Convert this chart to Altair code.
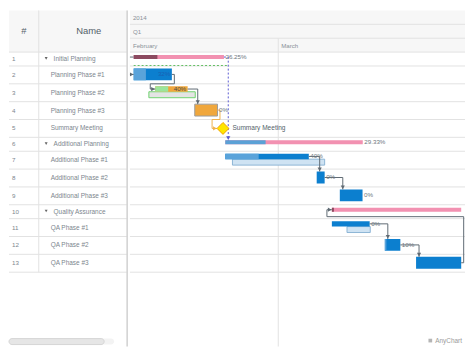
import altair as alt
import pandas as pd

# ---------------- data ----------------
row_no = list(range(1, 14))
names = ["Initial Planning", "Planning Phase #1", "Planning Phase #2", "Planning Phase #3",
         "Summary Meeting", "Additional Planning", "Additional Phase #1", "Additional Phase #2",
         "Additional Phase #3", "Quality Assurance", "QA Phase #1", "QA Phase #2", "QA Phase #3"]
kinds = ["group", "task", "task", "task", "milestone", "group", "task", "task", "task",
         "group", "task", "task", "task"]
starts = ["2014-02-01T17:00", "2014-02-01T17:00", "2014-02-05T18:30", "2014-02-13T05:45",
          "2014-02-18T13:40", "2014-02-19T00:00", "2014-02-19T00:00", "2014-03-08T06:15",
          "2014-03-12T15:00", "2014-03-11T03:00", "2014-03-11T03:00", "2014-03-21T03:00",
          "2014-03-27T00:30"]
ends = ["2014-02-18T18:00", "2014-02-08T22:00", "2014-02-11T21:30", "2014-02-17T12:45",
        None, "2014-03-16T23:00", "2014-03-06T18:30", "2014-03-09T18:15",
        "2014-03-16T22:00", "2014-04-04T13:00", "2014-03-18T06:15", "2014-03-24T01:15",
        "2014-04-04T13:00"]
progress = [26.25, 32, 40, 0, None, 29.33, 40, 0, 0, 1.57, 0, 10, 0]
base_starts = [None, None, "2014-02-04T13:45", None, None, None, "2014-02-20T08:30",
               None, None, None, "2014-03-13T23:30", None, None]
base_ends = [None, None, "2014-02-13T08:00", None, None, None, "2014-03-09T18:15",
             None, None, None, "2014-03-18T09:00", None, None]
links_from = [0, 1, 2, 3, 0, 6, 7, 10, 11, 12]
links_to = [1, 2, 3, 4, 5, 7, 8, 11, 12, 9]
links_type = ["SS", "FS", "FS", "FS", "FS", "FS", "FS", "FS", "FS", "FS"]
header_labels = ["2014", "Q1", "February", "March"]
header_level = [0, 1, 2, 2]
header_starts = ["2014-01-01", "2014-01-01", "2014-02-01", "2014-03-01"]
view_start = "2014-02-01T00:00"
view_end = "2014-04-05T06:15"

# ---------------- layout / style ----------------
W_GRID, W_TL, H = 120, 338, 339
HEAD = 42
LVL_H = 14
row_h = [14 if k == "group" else 18 for k in kinds]
row_top = []
_y = HEAD
for h in row_h:
    row_top.append(_y)
    _y += h
row_bot = [t + h for t, h in zip(row_top, row_h)]
row_mid = [(t + b) / 2 for t, b in zip(row_top, row_bot)]


def ms(s):
    return pd.Timestamp(s).value // 10**6


t0, t1 = ms(view_start), ms(view_end)
px = (t1 - t0) / W_TL  # ms per pixel

GRID_LINE = "#e2e2e2"
HEAD_BG = "#f7f7f7"
TXT = "#7c868e"
TXT_DARK = "#545f69"
GROUP_FILL, GROUP_PROG = "#f291b1", "#8c4a60"
TASK_FILL, TASK_PROG = "#0c7fcf", "#5aa3da"
BASE_FILL, BASE_STROKE = "#cfe3f3", "#8db5d6"
custom = {
    "Planning Phase #2": dict(fill="#f0a73c", prog="#9be59b", base_fill="#e4e4e4",
                              base_stroke="#6fd36f", label="inside", label_color="#4a4a4a"),
    "Planning Phase #3": dict(fill="#f0a73c", stroke="#9c9c9c"),
    "Planning Phase #1": dict(label="inside", label_color="#1a5fb4"),
    "Additional Planning": dict(prog="#5ba1d6"),
}
link_style = {(3, 4): ("#f0b24e", "solid"), (0, 5): ("#5b5bd1", "dash")}
LINK_COLOR = "#5f6a73"
FONT = "Liberation Sans"


def bar_y(i):
    t = row_top[i]
    if kinds[i] == "group":
        return t + 3, t + 7
    if kinds[i] == "milestone":
        return t + 3, t + 15
    if base_starts[i]:
        return t + 2.5, t + 8
    return t + 2.5, t + 14.5


def x_start(i):
    return ms(starts[i]) - (6 * px if kinds[i] == "milestone" else 0)


def x_end(i):
    return ms(starts[i]) + 6 * px if kinds[i] == "milestone" else ms(ends[i])


XS = alt.Scale(domain=[t0, t1], nice=False)
YS = alt.Scale(domain=[0, H], reverse=True, nice=False, zero=False)
GS = alt.Scale(domain=[0, W_GRID], nice=False, zero=False)


def xt(f):
    return alt.X(f"{f}:T", scale=XS, axis=None)


def yq(f):
    return alt.Y(f"{f}:Q", scale=YS, axis=None)


def xg(f):
    return alt.X(f"{f}:Q", scale=GS, axis=None)


# ---------------- timeline tables ----------------
rects = []


def add_rect(x, x2, y, y2, fill, stroke="transparent", sw=0):
    rects.append(dict(x=x, x2=x2, y=y, y2=y2, fill=fill, stroke=stroke, sw=sw))


for i, n in enumerate(names):
    if kinds[i] == "milestone":
        continue
    st = custom.get(n, {})
    s, e = ms(starts[i]), ms(ends[i])
    y0, y1 = bar_y(i)
    if base_starts[i]:
        add_rect(ms(base_starts[i]), ms(base_ends[i]), row_top[i] + 8, row_top[i] + 14,
                 st.get("base_fill", BASE_FILL), st.get("base_stroke", BASE_STROKE), 1)
    isg = kinds[i] == "group"
    fill = st.get("fill", GROUP_FILL if isg else TASK_FILL)
    if "stroke" in st:
        add_rect(s, e, y0, y1, fill, st["stroke"], 1)
    else:
        add_rect(s, e, y0, y1, fill)
    p = progress[i] or 0
    if p > 0:
        add_rect(s, s + (e - s) * p / 100, y0, y1,
                 st.get("prog", GROUP_PROG if isg else TASK_PROG))
rect_df = pd.DataFrame(rects)

ms_df = pd.DataFrame([dict(x=ms(starts[i]), y=row_top[i] + 9, name=names[i])
                      for i in range(len(names)) if kinds[i] == "milestone"])

# labels are only drawn when they start inside the visible time window
lab_left, lab_right = [], []
for i, n in enumerate(names):
    if kinds[i] == "milestone":
        lab_left.append(dict(x=ms(starts[i]) + 9.5 * px, y=row_top[i] + 9, text=n,
                             color=TXT_DARK, size=6.6))
        continue
    y0, y1 = bar_y(i)
    st = custom.get(n, {})
    txt = f"{progress[i]:g}%"
    if st.get("label") == "inside":
        lab_right.append(dict(x=ms(ends[i]) - 1.5 * px, y=(y0 + y1) / 2, text=txt,
                              color=st.get("label_color", TXT_DARK), size=6.3))
    else:
        lx = ms(ends[i]) + 1.5 * px
        if lx < t1 - 16 * px:
            lab_left.append(dict(x=lx, y=(y0 + y1) / 2, text=txt,
                                 color="#6d767e", size=6.3))
lab_left_df = pd.DataFrame(lab_left)
lab_right_df = pd.DataFrame(lab_right)

segs, arrows = [], []
for k, (a, b, typ) in enumerate(zip(links_from, links_to, links_type)):
    ya0, ya1 = bar_y(a)
    yb0, yb1 = bar_y(b)
    ya, yb = (ya0 + ya1) / 2, (yb0 + yb1) / 2
    tb = x_start(b)
    if typ == "SS":
        xa = x_start(a)
        xm = xa - 5 * px
        pts = [(xa, ya), (xm, ya), (xm, yb), (tb, yb)]
        arr = (tb - 2.2 * px, yb, "triangle-right")
    else:
        xa = x_end(a)
        if tb >= xa:
            xm = tb + 3 * px
            pts = [(xa, ya), (xm, ya), (xm, yb0)]
            arr = (xm, yb0 - 2.2, "triangle-down")
        else:
            xj = xa + 2.5 * px
            ym = row_bot[a] if b > a else row_bot[b] - 2
            xl = tb - 5 * px
            pts = [(xa, ya), (xj, ya), (xj, ym), (xl, ym), (xl, yb), (tb, yb)]
            arr = (tb - 2.2 * px, yb, "triangle-right")
    color, kind = link_style.get((a, b), (LINK_COLOR, "solid"))
    for j, (px_, py_) in enumerate(pts):
        segs.append(dict(link=k, i=j, x=px_, y=py_, color=color, kind=kind))
    arrows.append(dict(x=arr[0], y=arr[1], shape=arr[2], color=color))
# dotted highlight under the first group, ending at the dashed link
dash_x = ms(starts[5]) + 3 * px
for j, xx in enumerate([ms(starts[0]), dash_x]):
    segs.append(dict(link=99, i=j, x=xx, y=row_bot[0] - 0.5, color="#62bf62", kind="dash"))
seg_df = pd.DataFrame(segs)
arr_df = pd.DataFrame(arrows)

hdr_df = pd.DataFrame(dict(
    text=header_labels,
    x=[max(ms(s), t0) + 3 * px for s in header_starts],
    y=[l * LVL_H + LVL_H / 2 + 0.5 for l in header_level],
))
div_df = pd.DataFrame([dict(x=ms(s), y=l * LVL_H, y2=H)
                       for s, l in zip(header_starts, header_level) if ms(s) > t0])
hline_df = pd.DataFrame(dict(y=[LVL_H, 2 * LVL_H, HEAD] + row_bot))
tl_bg_df = pd.DataFrame([dict(x=t0, x2=t1, y=0, y2=HEAD)])

tl_layers = [
    alt.Chart(tl_bg_df).mark_rect(fill=HEAD_BG).encode(
        x=xt("x"), x2="x2", y=yq("y"), y2="y2"),
    alt.Chart(hline_df).mark_rule(color=GRID_LINE, strokeWidth=1).encode(y=yq("y")),
    alt.Chart(div_df).mark_rule(color=GRID_LINE, strokeWidth=1).encode(
        x=xt("x"), y=yq("y"), y2="y2"),
    alt.Chart(hdr_df).mark_text(align="left", fontSize=6.2, color="#8a9197").encode(
        x=xt("x"), y=yq("y"), text="text:N"),
    alt.Chart(rect_df).mark_rect(clip=True).encode(
        x=xt("x"), x2="x2", y=yq("y"), y2="y2",
        fill=alt.Fill("fill:N", scale=None), stroke=alt.Stroke("stroke:N", scale=None),
        strokeWidth=alt.StrokeWidth("sw:Q", scale=None)),
    alt.Chart(seg_df[seg_df.kind == "solid"]).mark_line(strokeWidth=1, clip=True).encode(
        x=xt("x"), y=yq("y"), detail="link:N", order="i:Q",
        color=alt.Color("color:N", scale=None)),
    alt.Chart(seg_df[seg_df.kind == "dash"]).mark_line(
        strokeWidth=1, strokeDash=[2, 2], clip=True).encode(
        x=xt("x"), y=yq("y"), detail="link:N", order="i:Q",
        color=alt.Color("color:N", scale=None)),
    alt.Chart(arr_df).mark_point(filled=True, opacity=1, size=18, clip=True).encode(
        x=xt("x"), y=yq("y"), shape=alt.Shape("shape:N", scale=None),
        color=alt.Color("color:N", scale=None)),
    alt.Chart(ms_df).mark_point(shape="diamond", filled=False, size=144, fill="#ffe600",
                                stroke="#f2a200", strokeWidth=1, opacity=1, clip=True).encode(
        x=xt("x"), y=yq("y")),
    alt.Chart(lab_left_df).mark_text(align="left", clip=True).encode(
        x=xt("x"), y=yq("y"), text="text:N",
        color=alt.Color("color:N", scale=None), size=alt.Size("size:Q", scale=None)),
    alt.Chart(lab_right_df).mark_text(align="right", clip=True).encode(
        x=xt("x"), y=yq("y"), text="text:N",
        color=alt.Color("color:N", scale=None), size=alt.Size("size:Q", scale=None)),
    alt.Chart(pd.DataFrame([dict(t="AnyChart")])).mark_text(
        align="right", fontSize=6.5, color="#9a9a9a").encode(
        x=alt.value(W_TL - 3), y=alt.value(H - 6), text="t:N"),
    alt.Chart(pd.DataFrame([dict(t="i")])).mark_square(
        size=14, color="#b5b5b5", opacity=1).encode(
        x=alt.value(W_TL - 35), y=alt.value(H - 6)),
]
timeline = alt.layer(*tl_layers).properties(width=W_TL, height=H)

# ---------------- data grid ----------------
g_bg = pd.DataFrame([dict(x=0, x2=W_GRID, y=0, y2=HEAD)])
g_lines = pd.DataFrame(dict(y=[HEAD] + row_bot))
g_cols = pd.DataFrame([dict(x=30, y=0, y2=row_bot[-1])])
g_div = pd.DataFrame([dict(x=W_GRID - 0.8, y=0, y2=H)])
g_head = pd.DataFrame(dict(text=["#", "Name"], x=[15, 80.5], y=[HEAD / 2, HEAD / 2]))
g_num = pd.DataFrame(dict(text=[str(n) for n in row_no], x=[3] * len(row_no), y=row_mid))
g_name = pd.DataFrame(dict(text=names, x=[45 if k == "group" else 42 for k in kinds],
                           y=row_mid))
g_tri = pd.DataFrame([dict(x=37.5, y=row_mid[i] - 0.7) for i, k in enumerate(kinds)
                      if k == "group"])
g_track = pd.DataFrame([dict(x=0, x2=106, y=H - 8, y2=H - 2)])
g_thumb = pd.DataFrame([dict(x=0, x2=96, y=H - 8, y2=H - 2)])

grid_layers = [
    alt.Chart(g_bg).mark_rect(fill=HEAD_BG).encode(x=xg("x"), x2="x2", y=yq("y"), y2="y2"),
    alt.Chart(g_lines).mark_rule(color=GRID_LINE, strokeWidth=1).encode(y=yq("y")),
    alt.Chart(g_cols).mark_rule(color=GRID_LINE, strokeWidth=1).encode(
        x=xg("x"), y=yq("y"), y2="y2"),
    alt.Chart(g_div).mark_rule(color="#d3d3d3", strokeWidth=1.6).encode(
        x=xg("x"), y=yq("y"), y2="y2"),
    alt.Chart(g_head).mark_text(fontSize=9.5, color=TXT_DARK).encode(
        x=xg("x"), y=yq("y"), text="text:N"),
    alt.Chart(g_num).mark_text(align="left", fontSize=6.3, color=TXT).encode(
        x=xg("x"), y=yq("y"), text="text:N"),
    alt.Chart(g_name).mark_text(align="left", fontSize=6.5, color=TXT).encode(
        x=xg("x"), y=yq("y"), text="text:N"),
    alt.Chart(g_tri).mark_point(shape="triangle-down", filled=True, size=9, opacity=1,
                                color="#666").encode(x=xg("x"), y=yq("y")),
    alt.Chart(g_track).mark_rect(fill="#f3f3f3", cornerRadius=3).encode(
        x=xg("x"), x2="x2", y=yq("y"), y2="y2"),
    alt.Chart(g_thumb).mark_rect(fill="#e6e6e6", stroke="#cfcfcf", strokeWidth=0.8,
                                 cornerRadius=3).encode(
        x=xg("x"), x2="x2", y=yq("y"), y2="y2"),
]
grid = alt.layer(*grid_layers).properties(width=W_GRID, height=H)

chart = (
    alt.hconcat(grid, timeline, spacing=0)
    .resolve_scale(x="independent", y="shared")
    .properties(padding=0)
    .configure(font=FONT)
    .configure_view(stroke=None)
)
chart.save("out.html", embed_options={"renderer": "svg", "actions": False})
